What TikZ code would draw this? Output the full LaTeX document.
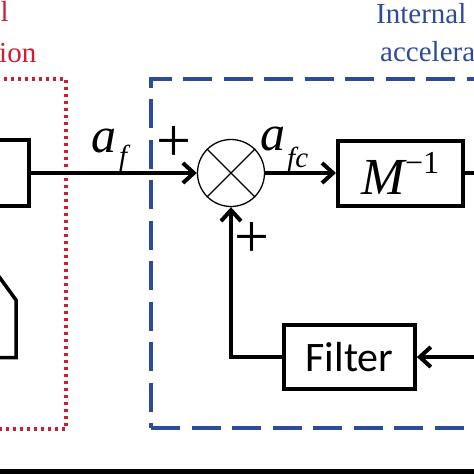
\documentclass[tikz,border=0pt]{standalone}
\usepackage{fontspec}
\setmainfont{Liberation Serif}
\newfontfamily\filterfont{Carlito}
\usetikzlibrary{arrows.meta}
\definecolor{redbox}{RGB}{205,30,50}
\definecolor{bluebox}{RGB}{45,75,155}
\begin{document}
\begin{tikzpicture}[x=1pt,y=-1pt,
  blockbox/.style={draw, line width=4pt, inner sep=0pt},
  wire/.style={line width=4pt},
  conn/.style={line width=4pt, -{Straight Barb[length=11pt,width=20pt]}},
  sumnode/.style={circle, draw, line width=1.3pt, minimum size=67pt, inner sep=0pt},
  lbl/.style={inner sep=0pt, font=\fontsize{50}{50}\selectfont\itshape},
  sublbl/.style={inner sep=0pt, font=\fontsize{29}{29}\selectfont\itshape},
  plussign/.style={inner sep=0pt, font=\fontsize{62}{62}\selectfont},
  redtxt/.style={inner sep=0pt, text=redbox, font=\fontsize{29}{29}\selectfont},
  bluetxt/.style={inner sep=0pt, text=bluebox, font=\fontsize{29}{29}\selectfont}]
\useasboundingbox (0,0) rectangle (474,474);
\clip (0,0) rectangle (474,474);
% region frames
\draw[redbox, line width=3.5pt, dash pattern=on 3pt off 4pt] (-10,79) -- (66,79) -- (66,429) -- (-10,429);
\draw[bluebox, line width=3.5pt, dash pattern=on 29pt off 11.5pt, dash phase=24pt] (151,428) -- (151,79) -- (490,79);
\draw[bluebox, line width=3.5pt, dash pattern=on 29pt off 11.5pt] (151,428) -- (490,428);
% titles
\node[redtxt, anchor=base west] (redl) at (0.5,21.5) {l};
\node[redtxt, anchor=base west] (redion) at (-1,62) {ion};
\node[bluetxt, anchor=base west] (bint) at (376,23) {Internal};
\node[bluetxt, anchor=base west] (bacc) at (380,61) {accelera};
% blocks
\node[blockbox, minimum width=137pt, minimum height=66.5pt] (lbox) at (-40,173) {};
\node[sumnode] (sum) at (231,173) {};
\draw[line width=1.3pt] (sum.45) -- (sum.225) (sum.135) -- (sum.315);
\node[blockbox, minimum width=125pt, minimum height=65pt] (mbox) at (400.5,173)
  {\fontsize{52}{52}\selectfont\itshape M\raisebox{21pt}{\upshape\fontsize{32}{32}\selectfont −1}};
\node[blockbox, line width=3.7pt, minimum width=131pt, minimum height=64pt,
  font=\filterfont\fontsize{42}{42}\selectfont] (filter) at (349.5,357) {Filter};
% partial shape lower left
\draw[line width=3.5pt, line join=miter] (-10,264.25) -- (16,300) -- (16,357.5) -- (-5,357.5);
% connectors
\draw[conn] (lbox.east) -- (sum.west);
\draw[conn] (sum.east) -- (mbox.west);
\coordinate (mout) at (480,173);
\draw[wire] (mbox.east) -- (mout);
\coordinate (fin) at (480,357);
\draw[conn] (fin) -- (filter.east);
\draw[conn] (filter.west) -| (sum.south);
% labels
\node[lbl, anchor=base west] (afa) at (91,152) {a};
\node[sublbl, anchor=base west] (afs) at (119,165) {f};
\node[lbl, anchor=base west] (afca) at (260,150) {a};
\node[sublbl, anchor=base west] (afcs) at (287,167) {fc};
\node[plussign] (p1) at (174,143.5) {+};
\node[plussign] (p2) at (252,240) {+};
% bottom bar
\fill (0,469) rectangle (474,474);
\end{tikzpicture}
\end{document}
